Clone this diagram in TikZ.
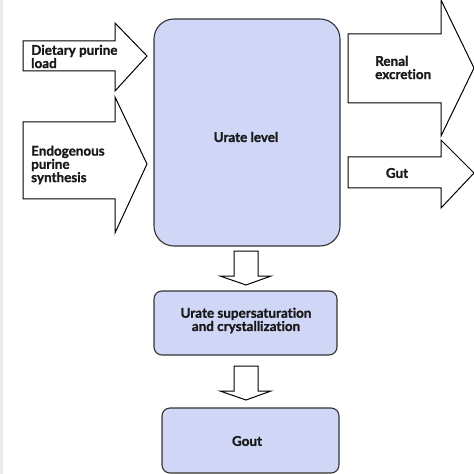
\documentclass[tikz,border=0pt]{standalone}
\usepackage{fontspec}
\setmainfont{Lato}[Ligatures=NoCommon, BoldFeatures={FakeBold=1.2}]
\begin{document}
\begin{tikzpicture}[x=1bp,y=-1bp,
  blockarrow/.style={draw=black, line width=1bp, fill=white, line join=miter},
  urbox/.style={draw=black!80, line width=1.1bp, fill=boxblue, rounded corners=#1},
  lbl/.style={font=\bfseries\fontsize{13.5}{13.3}\selectfont, text=black!90, inner sep=0pt}
]
\definecolor{boxblue}{RGB}{208,214,246}
\useasboundingbox (0,0) rectangle (474,474);
\fill[white] (0,0) rectangle (474,474);
\fill[black!8] (0,0) rectangle (3,474);
% main box
\draw[urbox=20bp] (154,19) rectangle (340,246);
\node[lbl] (urate) at (246,137) {Urate level};
% input arrows
\draw[blockarrow] (23,41) -- (115,41) -- (115,23) -- (147,56) -- (115,91) -- (115,71) -- (23,71) -- cycle;
\node[lbl, anchor=west, align=left] (diet) at (31,56.5) {Dietary purine\\load};
\draw[blockarrow] (23,122) -- (115,122) -- (115,97) -- (147,164) -- (115,233) -- (115,199) -- (23,199) -- cycle;
\node[lbl, anchor=west, align=left] (endo) at (31,165) {Endogenous\\purine\\synthesis};
% output arrows
\draw[blockarrow] (348,34) -- (441,34) -- (441,0) -- (474,68) -- (441,136) -- (441,103) -- (348,103) -- cycle;
\node[lbl, anchor=west, align=left] (renal) at (375,67.5) {Renal\\excretion};
\draw[blockarrow] (348,157) -- (441,157) -- (441,140) -- (474,173) -- (441,208) -- (441,188) -- (348,188) -- cycle;
\node[lbl] (gut) at (397,173) {Gut};
% down arrows
\draw[blockarrow] (234,251) -- (258,251) -- (258,276) -- (271,276) -- (246,285) -- (220,276) -- (234,276) -- cycle;
\draw[urbox=8bp] (154,291) rectangle (337,355);
\node[lbl, align=center] (super) at (246,320.5) {Urate supersaturation\\and crystallization};
\draw[blockarrow] (234,366) -- (258,366) -- (258,391) -- (271,391) -- (246,400) -- (220,391) -- (234,391) -- cycle;
\draw[urbox=8bp] (162,408) rectangle (339,473);
\node[lbl] (gout) at (247,441) {Gout};
\end{tikzpicture}
\end{document}
